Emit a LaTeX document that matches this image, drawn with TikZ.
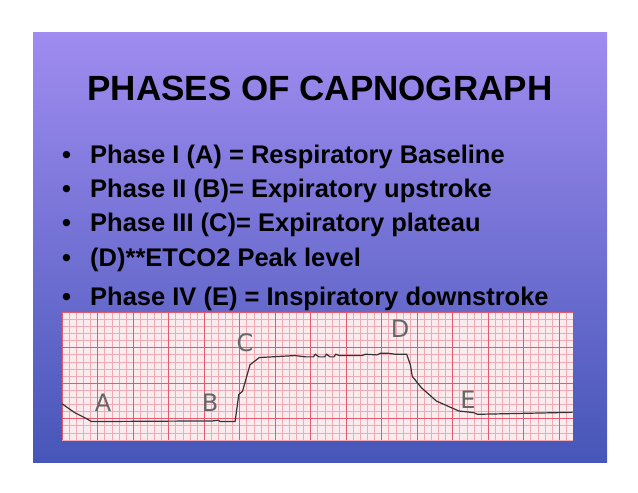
\documentclass[tikz,border=0pt]{standalone}
\usepackage{fontspec}
\setmainfont{Liberation Sans}
\newfontfamily\hand{DejaVu Sans}
\definecolor{topc}{RGB}{160,140,240}
\definecolor{botc}{RGB}{70,86,184}
\definecolor{paper}{RGB}{250,236,238}
\definecolor{minorc}{RGB}{240,170,180}
\definecolor{majorc}{RGB}{228,90,110}
\begin{document}
\begin{tikzpicture}[x=1pt,y=-1pt,
  bul/.style={anchor=base west,font=\bfseries\fontsize{25.5}{28}\selectfont,inner sep=0},
  letter/.style={font=\hand\fontsize{24}{24}\selectfont,text=black!60},
  minorl/.style={minorc,line width=0.4},
  majorl/.style={majorc,line width=0.8}]
\useasboundingbox (0,0) rectangle (638,493);
\fill[white] (0,0) rectangle (638,493);
\shade[top color=topc,bottom color=botc] (33,32) rectangle (607,462);
\node[font=\bfseries\fontsize{35}{40}\selectfont,anchor=base,inner sep=0] (title) at (320,100) {PHASES OF CAPNOGRAPH};
\foreach \y/\t [count=\i] in {163/{Phase I (A) = Respiratory Baseline},197/{Phase II (B)= Expiratory upstroke},231/{Phase III (C)= Expiratory plateau},266/{(D)**ETCO2 Peak level},305/{Phase IV (E) = Inspiratory downstroke}}{
  \node[bul] (b\i) at (62,\y) {•};
  \node[bul] (t\i) at (90,\y) {\t};
}
\fill[paper] (62,312) rectangle (573,440);
\foreach \k in {0,...,71}{\draw[minorl] ({62+\k*7.1},312) -- ({62+\k*7.1},440);}
\foreach \k in {0,...,18}{\draw[minorl] (62,{312+\k*7.1}) -- (573,{312+\k*7.1});}
\foreach \k in {0,...,14}{\draw[majorl] ({62+\k*35.5},312) -- ({62+\k*35.5},440);}
\foreach \k in {0,...,3}{\draw[majorl] (62,{312+\k*35.5}) -- (573,{312+\k*35.5});}
\begin{scope}[shift={(62,312)},xscale=0.373,yscale=0.33]
\begin{scope}[shift={(-96,-40)}]
\draw[black!80,line width=1.2] (96,318) -- (130,345) -- (160,362) -- (175,372) -- (500,370) -- (515,368) -- (520,372) -- (560,372) -- (570,290) -- (580,280) -- (600,200) -- (625,178) -- (720,172) -- (750,176) -- (770,176) -- (775,168) -- (785,176) -- (800,176) -- (805,168) -- (815,176) -- (825,176) -- (830,168) -- (840,172) -- (900,172) -- (910,168) -- (940,170) -- (950,165) -- (970,165) -- (990,168) -- (1020,168) -- (1030,200) -- (1035,235) -- (1060,270) -- (1100,310) -- (1160,340) -- (1200,345) -- (1210,350) -- (1465,344);
\end{scope}
\end{scope}
\node[letter] (A) at (103,403) {A};
\node[letter] (B) at (210,403) {B};
\node[letter] (C) at (245,343) {C};
\node[letter] (D) at (400,329) {D};
\node[letter] (E) at (468,400) {E};
\end{tikzpicture}
\end{document}
